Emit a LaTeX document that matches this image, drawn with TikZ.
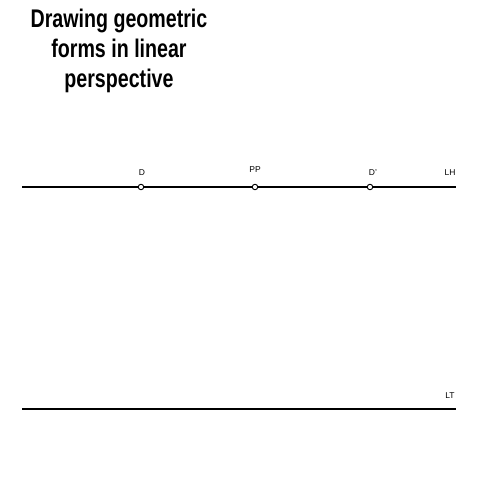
\documentclass[tikz,border=0pt]{standalone}
\usepackage{fontspec}
\setmainfont{Liberation Sans}
\begin{document}
\begin{tikzpicture}[x=1pt,y=-1pt,
  pt/.style={circle,draw,fill=white,inner sep=0pt,minimum size=5.5pt,line width=0.9pt},
  lbl/.style={font=\fontsize{8.5}{9}\selectfont,inner sep=0pt},
  ttl/.style={font=\bfseries\fontsize{25.5}{30}\selectfont,inner sep=0pt,align=center},
  ln/.style={line width=1.1pt}]
\useasboundingbox (0,0) rectangle (480,480);
\node[ttl] (title) at (119,51) {\scalebox{0.77}[1]{Drawing geometric}\\\scalebox{0.77}[1]{forms in linear}\\\scalebox{0.77}[1]{perspective}};
\coordinate (lhA) at (22,187);
\coordinate (lhB) at (456,187);
\coordinate (ltA) at (22,409);
\coordinate (ltB) at (456,409);
\draw[ln] (lhA) -- (lhB);
\draw[ln] (ltA) -- (ltB);
\node[pt] (D) at (141,187) {};
\node[pt] (PP) at (255,187) {};
\node[pt] (Dp) at (370,187) {};
\node[lbl] (Dl) at (142,173) {D};
\node[lbl] (PPl) at (255,170) {PP};
\node[lbl] (Dpl) at (373,173) {D'};
\node[lbl] (LH) at (450,173) {LH};
\node[lbl] (LT) at (450,396) {LT};
\end{tikzpicture}
\end{document}
